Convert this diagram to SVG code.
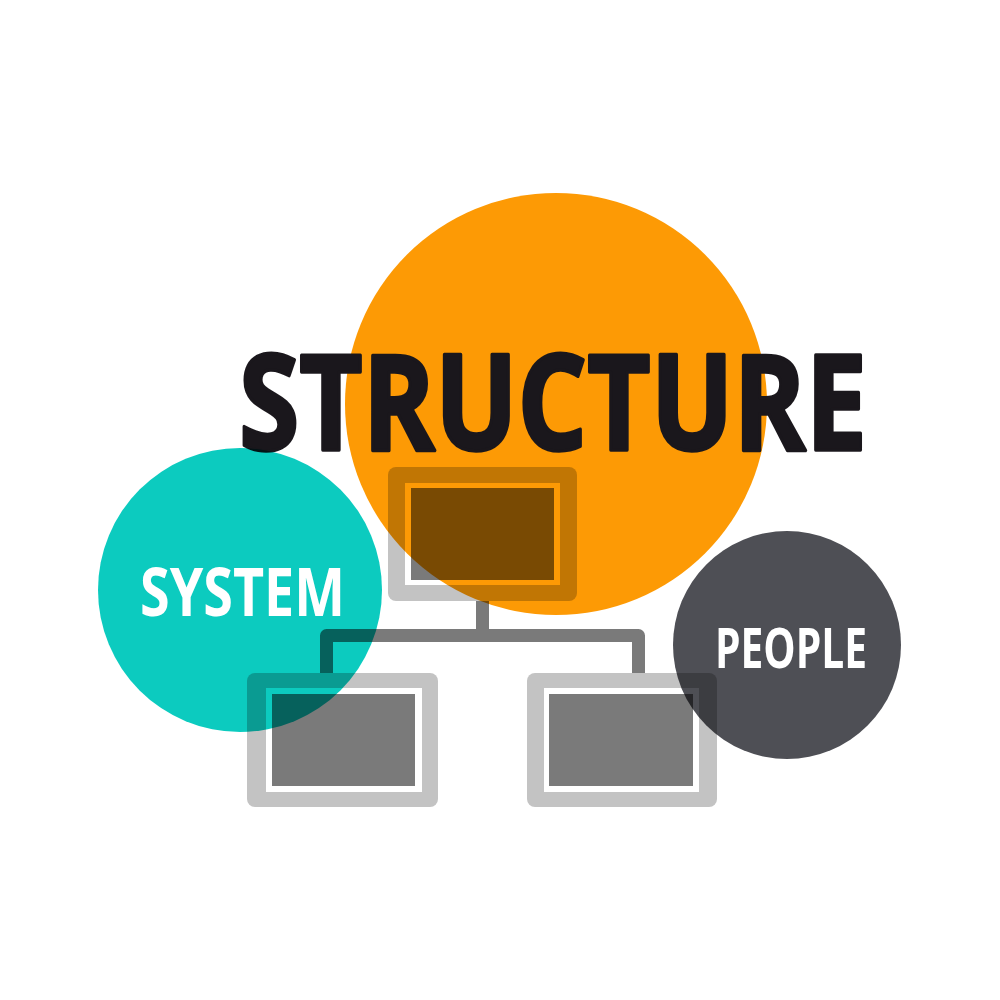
<svg xmlns="http://www.w3.org/2000/svg" width="1000" height="1000" viewBox="0 0 1000 1000">
<style>
.outer{fill:#c3c3c3}
.gap{fill:#ffffff}
.screen{fill:#7a7a7a}
.wire{fill:none;stroke:#7a7a7a;stroke-width:13;stroke-linejoin:round}
.blend{mix-blend-mode:multiply}
.lbl{font-family:"Open Sans","Liberation Sans",sans-serif;font-weight:700}
</style>
<rect width="1000" height="1000" fill="#ffffff"/>
<g id="connectors">
<path class="wire" d="M482.5 601 V635.5 M326.5 673 V635.5 H638.5 V673"/>
</g>
<g id="box-top">
<rect class="outer" x="388" y="467" width="189" height="134" rx="8"/>
<rect class="gap" x="405" y="483" width="155" height="102"/>
<rect class="screen" x="411" y="488" width="143" height="92"/>
</g>
<g id="box-left">
<rect class="outer" x="247" y="673" width="191" height="134" rx="8"/>
<rect class="gap" x="266" y="688" width="156" height="104"/>
<rect class="screen" x="272" y="694" width="143" height="92"/>
</g>
<g id="box-right">
<rect class="outer" x="527" y="673" width="190" height="134" rx="8"/>
<rect class="gap" x="544" y="688" width="155" height="104"/>
<rect class="screen" x="549" y="694" width="144" height="92"/>
</g>
<g id="structure">
<circle class="blend" cx="556" cy="404" r="211" fill="#fd9a05"/>
<text class="lbl" x="239" y="450" font-size="132" textLength="628" lengthAdjust="spacingAndGlyphs" fill="#1a171c" stroke="#1a171c" stroke-width="3.5" stroke-linejoin="round">STRUCTURE</text>
</g>
<g id="system">
<circle class="blend" cx="240" cy="590" r="142" fill="#0ccbbf"/>
<text class="lbl" x="140" y="616" font-size="66" textLength="205" lengthAdjust="spacingAndGlyphs" fill="#ffffff">SYSTEM</text>
</g>
<g id="people">
<circle class="blend" cx="787" cy="645" r="114" fill="#4e4f55"/>
<text class="lbl" x="715" y="668" font-size="56" font-weight="600" textLength="152" lengthAdjust="spacingAndGlyphs" fill="#ffffff">PEOPLE</text>
</g>
</svg>
